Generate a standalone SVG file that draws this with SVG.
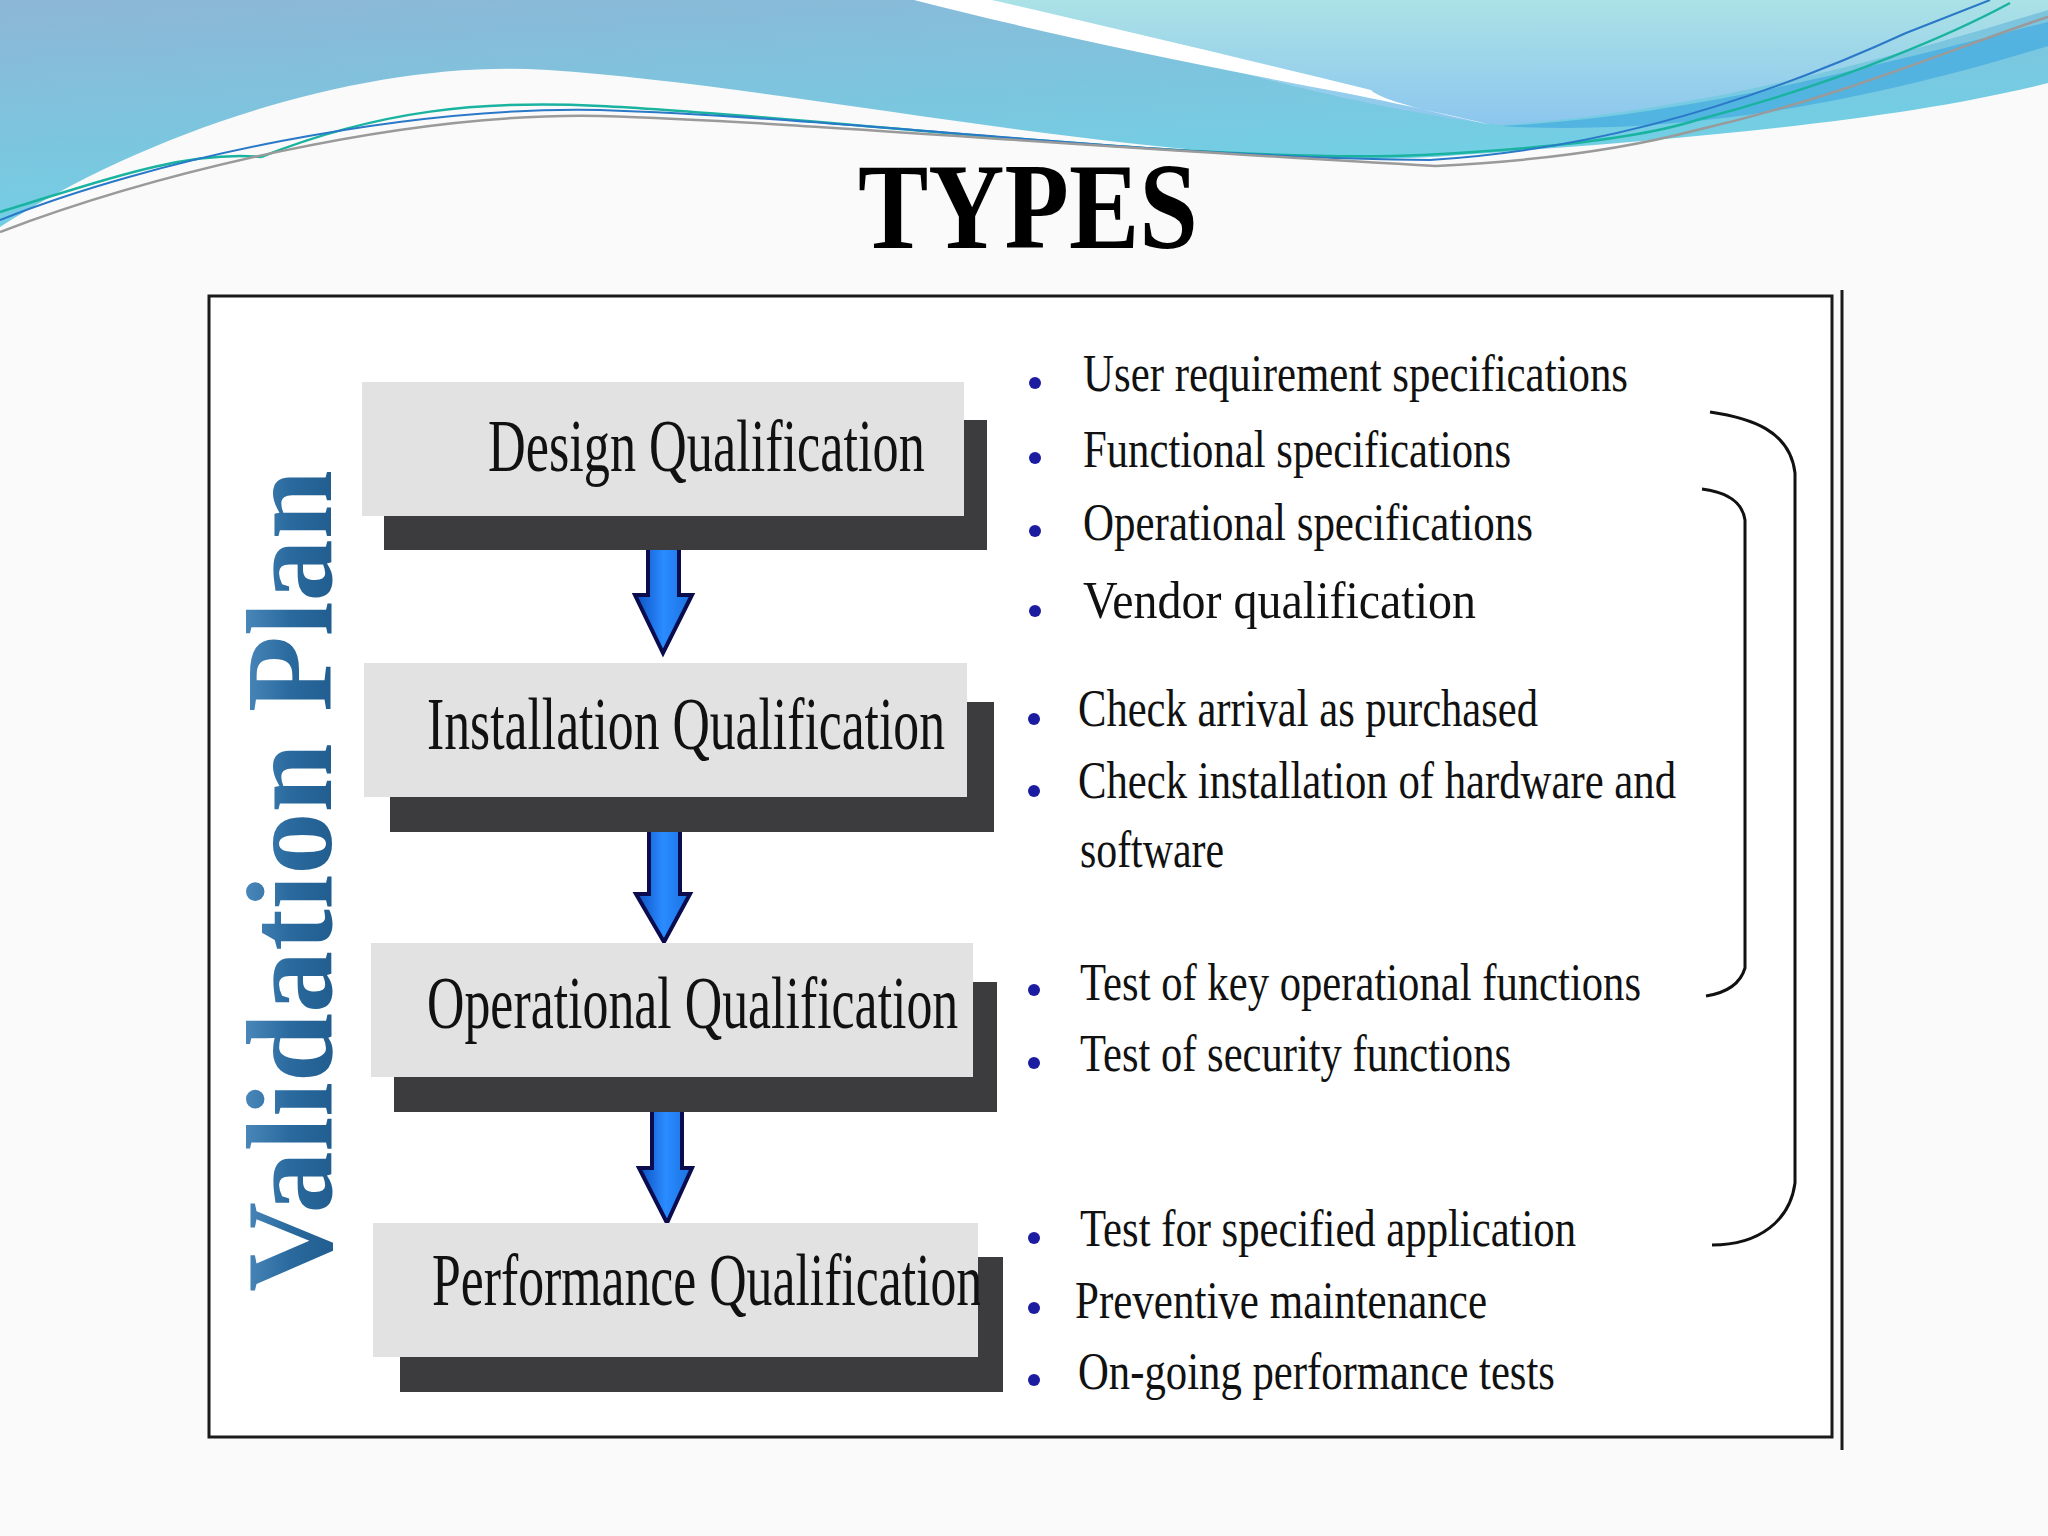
<svg xmlns="http://www.w3.org/2000/svg" width="2048" height="1536" viewBox="0 0 2048 1536">
<defs>
<linearGradient id="topBlue" x1="0" y1="0" x2="0.35" y2="1">
<stop offset="0" stop-color="#8db6d6"/>
<stop offset="0.6" stop-color="#74cde3"/>
<stop offset="1" stop-color="#5fe0ee"/>
</linearGradient>
<linearGradient id="lightReg" x1="0" y1="0" x2="0" y2="1">
<stop offset="0" stop-color="#abe2e6"/>
<stop offset="1" stop-color="#8cc6ee"/>
</linearGradient>
<linearGradient id="arrowFill" x1="0" y1="0" x2="1" y2="0">
<stop offset="0" stop-color="#0c4fc0"/>
<stop offset="0.5" stop-color="#2a8cff"/>
<stop offset="1" stop-color="#1a70e0"/>
</linearGradient>
<linearGradient id="vpFill" x1="0" y1="0" x2="0" y2="1">
<stop offset="0" stop-color="#5a96c8"/>
<stop offset="0.5" stop-color="#2a6a9e"/>
<stop offset="1" stop-color="#1d5687"/>
</linearGradient>
<style>
.box{fill:#e2e2e2;}
.shadow{fill:#3c3c3e;}
.boxtext{font-family:"Liberation Serif","Times New Roman",serif;font-size:74px;fill:#111;}
.item{font-family:"Liberation Serif","Times New Roman",serif;font-size:52px;fill:#111;}
.bullet{fill:#1c1ca0;}
.arrow{fill:url(#arrowFill);stroke:#0a0c4e;stroke-width:4;stroke-linejoin:miter;}
.bracket{fill:none;stroke:#111;stroke-width:3;}
</style>
</defs>
<rect width="2048" height="1536" fill="#fafafa"/>
<g id="background">
<rect x="0" y="0" width="2048" height="320" fill="url(#topBlue)"/>
<path d="M992,0 C1150,50 1350,108 1501,125 C1700,112 1900,55 2048,10 L2048,0 Z" fill="url(#lightReg)"/>
<path d="M914,0 C1030,30 1180,62 1345,93 C1420,108 1470,120 1501,127 C1430,112 1380,100 1371,90 C1240,58 1120,30 992,0 Z" fill="#ffffff"/>
<path d="M1501,126 C1700,116 1900,58 2048,22 L2048,46 C1900,92 1700,138 1501,126 Z" fill="#4aaee0" opacity="0.8"/>
<path d="M0,227 C150,130 370,58 548,70 C800,86 1200,178 1460,155 C1700,138 1900,120 2048,83 L2048,1536 L0,1536 Z" fill="#fafafa"/>
<path d="M0,212 C90,185 180,150 261,157 M261,157 C380,110 480,100 600,106 C800,115 1200,165 1423,155 C1560,148 1650,135 1697,120 C1850,80 1960,30 2010,3" fill="none" stroke="#19b3a0" stroke-width="2.5"/>
<path d="M0,220 C150,160 400,106 600,110 C850,118 1150,158 1430,160 C1600,150 1760,100 1906,33 L1990,0" fill="none" stroke="#2a78c8" stroke-width="2"/>
<path d="M0,232 C150,175 400,112 600,116 C800,122 1050,145 1436,166 C1560,160 1640,145 1697,130 C1850,95 1960,45 2048,17" fill="none" stroke="#9a9a9a" stroke-width="2.5"/>
</g>
<text x="1028" y="248" text-anchor="middle" font-family="Liberation Serif,Times New Roman,serif" font-weight="bold" font-size="122" textLength="340" lengthAdjust="spacingAndGlyphs" fill="#000">TYPES</text>
<g id="frame">
<rect x="209" y="296" width="1623" height="1141" fill="#ffffff" stroke="#1a1a1a" stroke-width="3"/>
<line x1="1842" y1="290" x2="1842" y2="1450" stroke="#1a1a1a" stroke-width="3"/>
</g>
<g id="validation-plan">
<text transform="translate(331,1292) rotate(-90)" x="0" y="0" font-family="Liberation Serif,Times New Roman,serif" font-weight="bold" font-size="122" textLength="822" lengthAdjust="spacingAndGlyphs" fill="url(#vpFill)">Validation Plan</text>
</g>
<g id="connectors">
<path class="arrow" d="M648,518 H679 V595 H692 L663,653 L635,595 H648 Z"/>
<path class="arrow" d="M649,808 H680 V894 H690 L664,942 L636,894 H649 Z"/>
<path class="arrow" d="M652,1085 H682 V1168 H692 L667,1223 L639,1168 H652 Z"/>
</g>
<g id="node-design">
<rect class="shadow" x="384" y="420" width="603" height="130"/>
<rect class="box" x="362" y="382" width="602" height="134"/>
<text class="boxtext" transform="translate(488,471) scale(0.7,1)" textLength="624" lengthAdjust="spacingAndGlyphs">Design Qualification</text>
</g>
<g id="node-installation">
<rect class="shadow" x="390" y="702" width="604" height="130"/>
<rect class="box" x="364" y="663" width="603" height="134"/>
<text class="boxtext" transform="translate(427,749) scale(0.7,1)" textLength="740" lengthAdjust="spacingAndGlyphs">Installation Qualification</text>
</g>
<g id="node-operational">
<rect class="shadow" x="394" y="982" width="603" height="130"/>
<rect class="box" x="371" y="943" width="602" height="134"/>
<text class="boxtext" transform="translate(427,1028) scale(0.7,1)" textLength="759" lengthAdjust="spacingAndGlyphs">Operational Qualification</text>
</g>
<g id="node-performance">
<rect class="shadow" x="400" y="1257" width="603" height="135"/>
<rect class="box" x="373" y="1223" width="605" height="134"/>
<text class="boxtext" transform="translate(432,1305) scale(0.7,1)" textLength="786" lengthAdjust="spacingAndGlyphs">Performance Qualification</text>
<rect class="shadow" x="980" y="1257" width="23" height="100"/>
</g>
<g id="list-design">
<circle class="bullet" cx="1035" cy="383" r="6"/>
<text class="item" x="1083" y="391" textLength="545" lengthAdjust="spacingAndGlyphs">User requirement specifications</text>
<circle class="bullet" cx="1035" cy="458" r="6"/>
<text class="item" x="1083" y="467" textLength="428" lengthAdjust="spacingAndGlyphs">Functional specifications</text>
<circle class="bullet" cx="1035" cy="531" r="6"/>
<text class="item" x="1083" y="540" textLength="450" lengthAdjust="spacingAndGlyphs">Operational specifications</text>
<circle class="bullet" cx="1035" cy="611" r="6"/>
<text class="item" x="1083" y="618" textLength="393" lengthAdjust="spacingAndGlyphs">Vendor qualification</text>
</g>
<g id="list-installation">
<circle class="bullet" cx="1034" cy="719" r="6"/>
<text class="item" x="1078" y="726" textLength="460" lengthAdjust="spacingAndGlyphs">Check arrival as purchased</text>
<circle class="bullet" cx="1034" cy="791" r="6"/>
<text class="item" x="1078" y="798" textLength="598" lengthAdjust="spacingAndGlyphs">Check installation of hardware and</text>
<text class="item" x="1080" y="867" textLength="144" lengthAdjust="spacingAndGlyphs">software</text>
</g>
<g id="list-operational">
<circle class="bullet" cx="1034" cy="990" r="6"/>
<text class="item" x="1080" y="1000" textLength="561" lengthAdjust="spacingAndGlyphs">Test of key operational functions</text>
<circle class="bullet" cx="1034" cy="1063" r="6"/>
<text class="item" x="1080" y="1071" textLength="431" lengthAdjust="spacingAndGlyphs">Test of security functions</text>
</g>
<g id="list-performance">
<circle class="bullet" cx="1034" cy="1238" r="6"/>
<text class="item" x="1080" y="1246" textLength="496" lengthAdjust="spacingAndGlyphs">Test for specified application</text>
<circle class="bullet" cx="1034" cy="1308" r="6"/>
<text class="item" x="1075" y="1318" textLength="412" lengthAdjust="spacingAndGlyphs">Preventive maintenance</text>
<circle class="bullet" cx="1034" cy="1380" r="6"/>
<text class="item" x="1078" y="1389" textLength="477" lengthAdjust="spacingAndGlyphs">On-going performance tests</text>
</g>
<g id="brackets">
<path class="bracket" d="M1710,412 C1750,418 1790,430 1795,473 V1183 C1790,1220 1760,1245 1712,1245"/>
<path class="bracket" d="M1702,489 C1725,492 1742,500 1745,520 V968 C1740,985 1725,993 1706,996"/>
</g>
</svg>
